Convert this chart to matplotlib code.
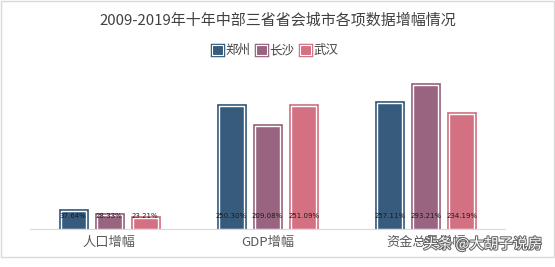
import numpy as np
import matplotlib.pyplot as plt
import matplotlib.patheffects as pe
from matplotlib.patches import Patch, Rectangle

plt.rcParams['font.family'] = ['Noto Sans CJK SC', 'DejaVu Sans']

# 数据
categories = ['人口增幅', 'GDP增幅', '资金总量增幅']
cities = ['郑州', '长沙', '武汉']
zhengzhou = [37.64, 250.30, 257.11]
changsha = [28.33, 209.08, 293.21]
wuhan = [23.21, 251.09, 234.19]
labels = [['37.64%', '250.30%', '257.11%'],
          ['28.33%', '209.08%', '293.21%'],
          ['23.21%', '251.09%', '234.19%']]
colors = ['#375B7C', '#986480', '#D37082']

fig = plt.figure(figsize=(5.55, 2.67), dpi=100)
ax = fig.add_axes([0.054, 0.1423, 0.856, 0.5957])

x = np.arange(len(categories))
step = 0.228
width = 0.158
for i, vals in enumerate([zhengzhou, changsha, wuhan]):
    bars = ax.bar(x + (i - 1) * step, vals, width, color=colors[i],
                  edgecolor='white', linewidth=1.0, label=cities[i])
    for b in bars:
        b.set_path_effects([pe.Stroke(linewidth=3.4, foreground=colors[i]),
                            pe.Normal()])
    for j, b in enumerate(bars):
        ax.text(b.get_x() + b.get_width() / 2, 27, labels[i][j],
                ha='center', va='center', fontsize=5, color='#1a1a1a',
                family='DejaVu Sans')

ax.set_xlim(-0.5, 2.5)
ax.set_ylim(0, 324)
ax.set_xticks(x)
ax.set_xticklabels(categories, fontsize=9.5, color='#595959')
ax.tick_params(axis='x', length=0, pad=5)
ax.set_yticks([])
for s in ['top', 'right', 'left']:
    ax.spines[s].set_visible(False)
ax.spines['bottom'].set_color('#d9d9d9')

fig.text(0.5, 0.925, '2009-2019年十年中部三省省会城市各项数据增幅情况',
         ha='center', va='center', fontsize=10.8, color='#404040')

handles = []
for c, name in zip(colors, cities):
    h = Patch(facecolor=c, edgecolor='white', linewidth=0.8, label=name)
    h.set_path_effects([pe.Stroke(linewidth=2.5, foreground=c), pe.Normal()])
    handles.append(h)
fig.legend(handles=handles, loc='center', bbox_to_anchor=(0.496, 0.81),
           ncol=3, frameon=False, fontsize=9, handlelength=0.9,
           handleheight=0.9, handletextpad=0.2, columnspacing=0.4,
           labelcolor='#404040')

# 外框
fig.patches.append(Rectangle((0.002, 0.038), 0.996, 0.958, transform=fig.transFigure,
                             fill=False, edgecolor='#d9d9d9', linewidth=1))

fig.text(0.87, 0.085, '头条 @大胡子说房', ha='center', va='center',
         fontsize=10.5, color='white',
         path_effects=[pe.withStroke(linewidth=1.5, foreground='#666666')])

fig.savefig('out.png', dpi=100)
